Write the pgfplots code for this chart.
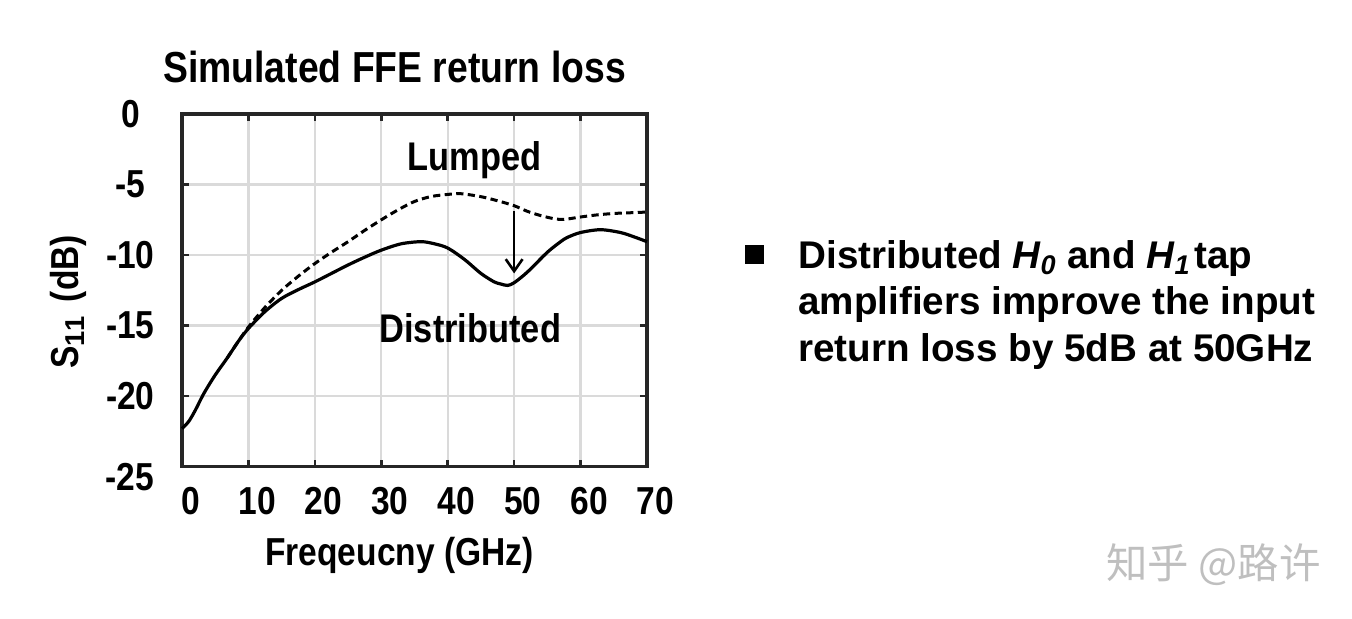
\documentclass[border=0pt]{standalone}
\usepackage{pgfplots}
\pgfplotsset{compat=1.18}
\usetikzlibrary{arrows.meta}
\usepackage{fontspec}
\setmainfont{Liberation Sans}
\newfontfamily\cond[FakeStretch=0.86]{Liberation Sans}
\newfontfamily\cjk{Noto Sans CJK SC}
\definecolor{gridc}{HTML}{DADADA}
\definecolor{axc}{HTML}{262626}
\begin{document}
\begin{tikzpicture}[x=1pt,y=1pt]
\path[use as bounding box] (0,0) rectangle (676,309);
\begin{axis}[
  at={(91pt,75.65pt)}, anchor=south west,
  scale only axis, width=232.5pt, height=176.35pt,
  xmin=0, xmax=70, ymin=-25, ymax=0,
  xtick={0,10,...,70}, ytick={-25,-20,-15,-10,-5,0},
  xticklabels={0,10,20,30,40,50,60,70},
  yticklabels={{},-20,-15,-10,-5,0},
  grid=major,
  major grid style={gridc,line width=1.2pt},
  axis line style={axc,line width=1.7pt},
  tick style={axc,line width=1.3pt},
  tick align=inside, major tick length=3.5pt,
  xtick pos=both, ytick pos=both,
  axis on top=false,
  tick label style={font=\cond\fontsize{19.5}{21}\selectfont\bfseries},
  yticklabel style={anchor=east,text width=28pt,align=center,xshift=-8.3pt},
  xticklabel style={yshift=-6.5pt,xshift=4.3pt},
  clip=false,
]
\addplot[black,line width=1.5pt,dash pattern=on 3.6pt off 2.2pt,smooth,tension=0.5] coordinates {
 (6.8,-17.3)(8.5,-16.1)(10,-15.1)(12.5,-13.7)(15,-12.5)(17.5,-11.5)(20,-10.6)(22.5,-9.8)(25,-9.05)(27.5,-8.25)(30,-7.5)(32.5,-6.8)(35,-6.2)(37.5,-5.85)(40,-5.7)(42,-5.65)(45,-5.86)(47.5,-6.15)(50,-6.5)(52,-6.9)(54,-7.2)(56,-7.42)(57.5,-7.47)(60,-7.3)(62.5,-7.15)(65,-7.05)(67.5,-7.0)(70,-6.95)
};
\addplot[black,line width=1.6pt,smooth,tension=0.5] coordinates {
 (0,-22.3)(1,-21.8)(2,-21)(3.3,-19.8)(5,-18.5)(6.8,-17.3)(8.5,-16.1)(10,-15.2)(12.5,-14)(15,-13.07)(17.5,-12.45)(20,-11.9)(22.5,-11.3)(25,-10.7)(27.5,-10.15)(30,-9.65)(33,-9.2)(36,-9.05)(38,-9.2)(40,-9.5)(42.5,-10.3)(45,-11.3)(47,-11.9)(48,-12.05)(49,-12.15)(50,-11.96)(52,-11.2)(55,-9.8)(57,-9.05)(58,-8.75)(60,-8.4)(63,-8.2)(66,-8.4)(68,-8.7)(70,-9.05)
};
\addplot[black,line width=1.3pt,-{Straight Barb[length=6pt,width=10pt,angle'=70]}] coordinates {(50,-6.9)(50,-11.3)};
\node[font=\cond\fontsize{20}{22}\selectfont\bfseries] at (axis cs:44,-3.3) {Lumped};
\node[font=\cond\fontsize{20}{22}\selectfont\bfseries] at (axis cs:43.4,-15.2) {Distributed};
\end{axis}
\node[font=\cond\fontsize{19.5}{21}\selectfont\bfseries] at (65,70.5) {-25};
\node[font=\cond\fontsize{21.7}{24}\selectfont\bfseries] at (197.3,275.5) {Simulated FFE return loss};
\node[font=\cond\fontsize{19.5}{21}\selectfont\bfseries] at (199.7,31.5) {Freqeucny (GHz)};
\node[font=\cond\fontsize{19.5}{21}\selectfont\bfseries,rotate=90] at (34,158) {S$_{\mathbf{11}}$\,\,(dB)};
\fill[black] (372.5,177) rectangle (382,186.5);
\node[anchor=base west,inner sep=0pt,font=\fontsize{19.3}{21}\selectfont\bfseries] at (399,174.8) {Distributed \textit{H\textsubscript{0}} and \textit{H\textsubscript{1}}\hspace{-3.5pt} tap};
\node[anchor=base west,inner sep=0pt,font=\fontsize{19.3}{21}\selectfont\bfseries] at (399,151.8) {amplifiers improve the input};
\node[anchor=base west,inner sep=0pt,font=\fontsize{19.3}{21}\selectfont\bfseries] at (399,128.2) {return loss by 5dB at 50GHz};
\node[anchor=base west,inner sep=0pt,text=black!25,font=\cjk\fontsize{20.7}{22}\selectfont] at (553,20) {知乎\ @路许};
\end{tikzpicture}
\end{document}
